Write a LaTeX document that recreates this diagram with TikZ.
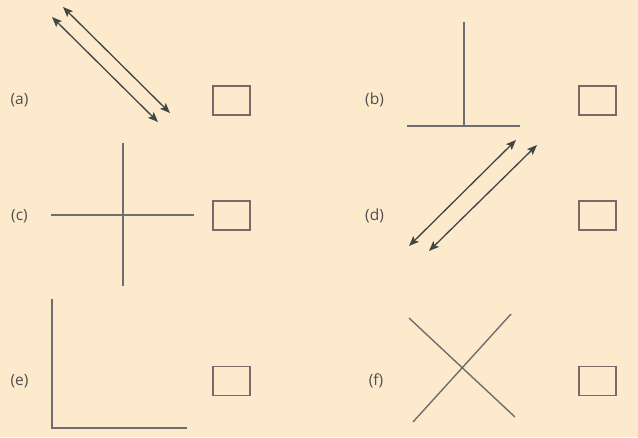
\documentclass[tikz,border=0pt]{standalone}
\usepackage{fontspec}
\setmainfont{Open Sans}
\usetikzlibrary{arrows.meta}
\definecolor{paper}{HTML}{FDEACC}
\definecolor{ink}{HTML}{6E6E6E}
\definecolor{textink}{HTML}{4F4F4F}
\definecolor{arrowink}{HTML}{3F4646}
\definecolor{boxink}{HTML}{7B6868}
\begin{document}
\begin{tikzpicture}[x=1pt, y=-1pt,
    lbl/.style={text=textink, font=\fontsize{15.5}{18}\selectfont, inner sep=0pt},
    tickbox/.style={draw=boxink, line width=1.6pt, minimum width=37pt, minimum height=29pt, inner sep=0pt},
    seg/.style={draw=ink, line width=1.4pt},
    dbl/.style={draw=arrowink, line width=1.3pt, {Stealth[length=10pt,width=8pt,inset=2pt]}-{Stealth[length=10pt,width=8pt,inset=2pt]}}]
    \useasboundingbox (0,0) rectangle (638,437);
    \fill[paper] (0,0) rectangle (638,437);
    % labels and boxes
    \node[lbl] (la) at (19.5,100) {(a)};
    \node[lbl] (lb) at (374.5,100) {(b)};
    \node[lbl] (lc) at (19.5,216) {(c)};
    \node[lbl] (ld) at (374.5,216) {(d)};
    \node[lbl] (le) at (19.5,381) {(e)};
    \node[lbl] (lf) at (376,381) {(f)};
    \node[tickbox] (ba) at (231.5,100.5) {};
    \node[tickbox] (bb) at (597.5,100.5) {};
    \node[tickbox] (bc) at (231.5,215.5) {};
    \node[tickbox] (bd) at (597.5,215.5) {};
    \node[tickbox] (be) at (231.5,381) {};
    \node[tickbox] (bf) at (597.5,381) {};
    % (a)
    \coordinate (a1) at (52,17);  \coordinate (a2) at (158,122);
    \coordinate (a3) at (63,7);   \coordinate (a4) at (170,113);
    \draw[dbl] (a1) -- (a2);
    \draw[dbl] (a3) -- (a4);
    % (b)
    \coordinate (b1) at (464,22);  \coordinate (b2) at (464,126);
    \coordinate (b3) at (407,126); \coordinate (b4) at (520,126);
    \draw[seg] (b1) -- (b2);
    \draw[seg] (b3) -- (b4);
    % (c)
    \coordinate (c1) at (123,143); \coordinate (c2) at (123,286);
    \coordinate (c3) at (51,215);  \coordinate (c4) at (194,215);
    \draw[seg] (c1) -- (c2);
    \draw[seg] (c3) -- (c4);
    % (d)
    \coordinate (d1) at (409,246); \coordinate (d2) at (516,140);
    \coordinate (d3) at (429,251); \coordinate (d4) at (537,145);
    \draw[dbl] (d1) -- (d2);
    \draw[dbl] (d3) -- (d4);
    % (e)
    \coordinate (e1) at (52,299); \coordinate (e2) at (52,428);
    \coordinate (e3) at (187,428);
    \draw[seg] (e1) -- (e2) -- (e3);
    % (f)
    \coordinate (f1) at (409,318); \coordinate (f2) at (515,417);
    \coordinate (f3) at (511,314); \coordinate (f4) at (413,422);
    \draw[seg] (f1) -- (f2);
    \draw[seg] (f3) -- (f4);
\end{tikzpicture}
\end{document}
